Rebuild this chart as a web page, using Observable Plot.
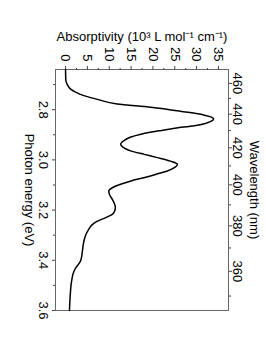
<!DOCTYPE html>
<html><head><meta charset="utf-8">
<script src="https://cdn.jsdelivr.net/npm/d3@7"></script>
<script src="https://cdn.jsdelivr.net/npm/@observablehq/plot@0.6"></script>
<style>body{margin:0;background:#fff;}</style>
</head><body><div id="chart"></div>
<script>
const energy = [2.64, 2.68, 2.70, 2.717, 2.73, 2.744, 2.76, 2.777, 2.79, 2.808, 2.821, 2.837, 2.845, 2.855, 2.864, 2.874, 2.884, 2.897, 2.91, 2.924, 2.937, 2.95, 2.964, 2.978, 2.991, 3.005, 3.017, 3.03, 3.044, 3.058, 3.071, 3.084, 3.097, 3.11, 3.124, 3.14, 3.157, 3.175, 3.19, 3.205, 3.217, 3.23, 3.244, 3.26, 3.277, 3.30, 3.324, 3.344, 3.364, 3.384, 3.404, 3.42, 3.431, 3.45, 3.471, 3.50, 3.531, 3.56, 3.6];
const absorptivity = [0, 0.05, 0.4, 1.1, 2.3, 4.2, 7.5, 11.8, 19.5, 27, 31.6, 33.9, 33.5, 32, 29.5, 25, 21.5, 17.5, 14.8, 13.3, 12.6, 13.2, 14.9, 18, 21, 24, 25.6, 25, 23.3, 20.6, 17.9, 15, 12.6, 10.8, 9.9, 10.1, 10.7, 11.2, 11.4, 11.2, 10.7, 9.2, 7.3, 6.0, 5.3, 4.6, 4.2, 4.0, 3.85, 3.7, 3.4, 2.8, 2.3, 1.8, 1.5, 1.25, 1.1, 1.0, 0.9];
const absorptivityTicks = [0, 5, 10, 15, 20, 25, 30, 35];
const absorptivityMinorTicks = [2.5, 7.5, 12.5, 17.5, 22.5, 27.5, 32.5];
const energyTicks = [2.8, 3.0, 3.2, 3.4, 3.6];
const energyMinorTicks = [2.7, 2.9, 3.1, 3.3, 3.5];
const wavelengthTicks = [460, 440, 420, 400, 380, 360];
const wavelengthMinorTicks = [450, 430, 410, 390, 370, 350];
const HC = 1239.84;

const data = energy.map((e, i) => ({e, a: absorptivity[i]}));
const axisColor = "#444";

const chart = Plot.plot({
  width: 266,
  height: 350,
  marginTop: 69,
  marginLeft: 55,
  marginRight: 38,
  marginBottom: 40,
  style: {fontFamily: "'Liberation Sans', Arial, sans-serif", fontSize: "13px", background: "#fff", color: "#000"},
  x: {domain: [-2.3, 37.3]},
  y: {domain: [2.64, 3.6], reverse: true},
  marks: [
    Plot.frame({stroke: "#666"}),
    Plot.axisX(absorptivityTicks, {anchor: "top", tickSize: 4, tickPadding: 4, tickRotate: 90, label: null, stroke: axisColor}),
    Plot.axisX(absorptivityMinorTicks, {anchor: "top", tickSize: 2, fill: "none", label: null, stroke: axisColor}),
    Plot.axisY(energyTicks, {anchor: "left", tickSize: 3, tickPadding: 4, tickRotate: 90, lineAnchor: "top", tickFormat: d3.format(".1f"), label: null, stroke: axisColor}),
    Plot.axisY(energyMinorTicks, {anchor: "left", tickSize: 2, fill: "none", label: null, stroke: axisColor}),
    Plot.axisY(wavelengthTicks.map(w => HC / w), {anchor: "right", tickSize: 3, tickPadding: 1, tickRotate: 90, lineAnchor: "bottom", tickFormat: d => Math.round(HC / d), label: null, stroke: axisColor}),
    Plot.axisY(wavelengthMinorTicks.map(w => HC / w), {anchor: "right", tickSize: 2, fill: "none", label: null, stroke: axisColor}),
    Plot.line(data, {x: "a", y: "e", curve: "monotone-y", stroke: "#000", strokeWidth: 1.5}),
    Plot.text(["Absorptivity (10³ L mol⁻¹ cm⁻¹)"], {frameAnchor: "top", dy: -29, lineAnchor: "bottom", textAnchor: "middle", fill: "#000"}),
    Plot.text(["Photon energy (eV)"], {frameAnchor: "left", dx: -31, rotate: 90, lineAnchor: "bottom", textAnchor: "middle", fill: "#000"}),
    Plot.text(["Wavelength (nm)"], {frameAnchor: "right", dx: 21, rotate: 90, lineAnchor: "bottom", textAnchor: "middle", fill: "#000"})
  ]
});
document.getElementById("chart").appendChild(chart);
</script>
</body></html>
